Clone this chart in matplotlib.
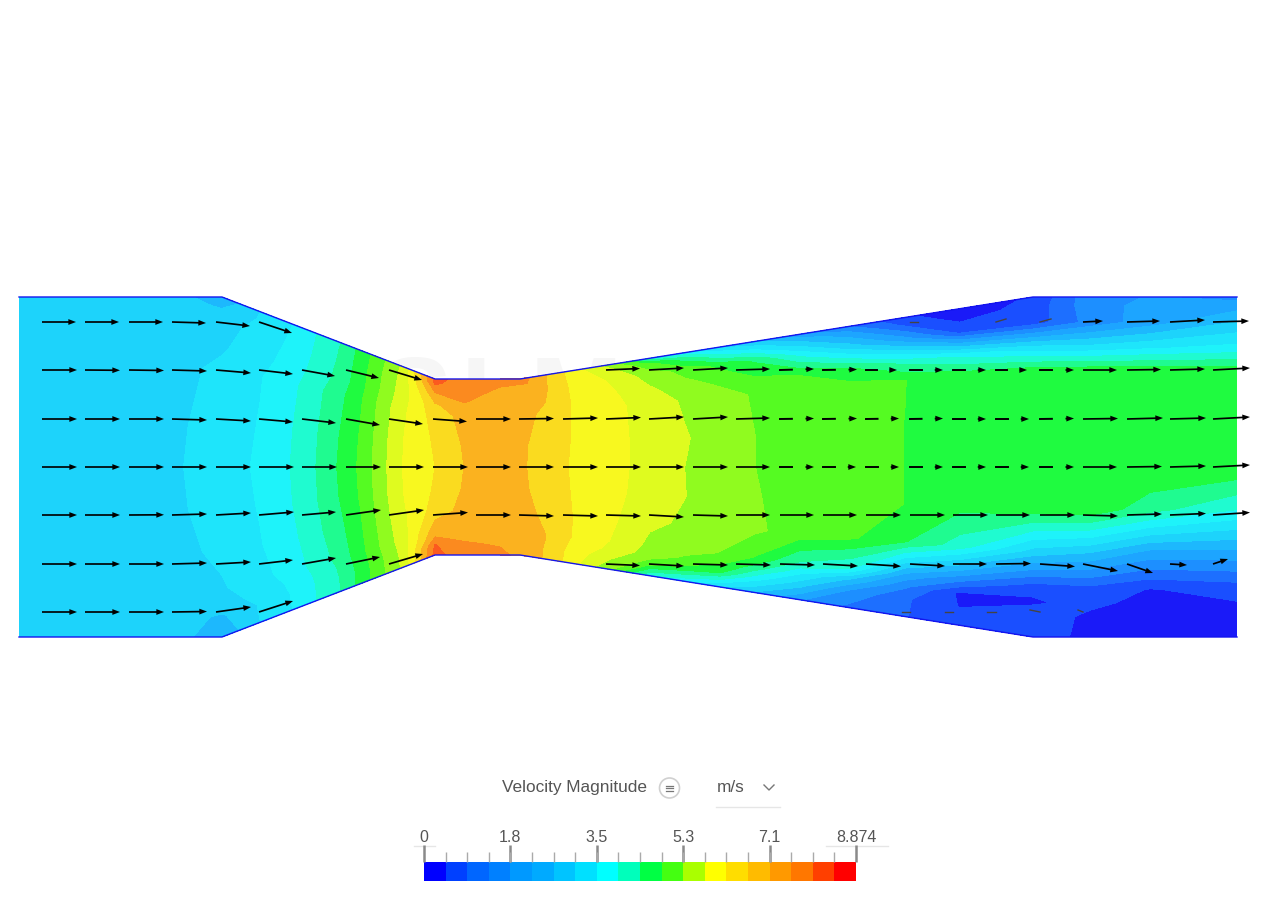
import numpy as np
import matplotlib
matplotlib.use('Agg')
import matplotlib.pyplot as plt
from matplotlib.patches import Circle

plt.rcParams['font.family'] = ['Liberation Sans', 'DejaVu Sans']

# nozzle walls (pixels)
wall_x = [19, 222, 435, 520, 1033, 1237]
wall_half = [170, 170, 88, 88, 170, 170]
center_y = 467

# stations along the nozzle and rows across it (-1 top wall, 1 bottom wall)
stations = [19, 100, 170, 222, 260, 290, 316, 340, 360, 375, 390, 405, 435, 465, 500, 527,
            550, 570, 610, 650, 685, 720, 755, 800, 850, 905, 960, 1033, 1090, 1150, 1237]
eta = [-1, -.95, -.85, -.7, -.58, -.25, 0, .25, .5, .72, .8, .88, 1]

# velocity magnitude, one list per station
speed = [
    [2.88, 2.88, 2.88, 2.88, 2.88, 2.88, 2.88, 2.88, 2.88, 2.88, 2.88, 2.88, 2.88],
    [2.85, 2.88, 2.88, 2.88, 2.88, 2.88, 2.88, 2.88, 2.88, 2.88, 2.88, 2.88, 2.85],
    [2.95, 2.9, 2.88, 2.9, 2.95, 3.0, 3.02, 3.0, 2.95, 2.9, 2.88, 2.88, 2.95],
    [2.3, 2.6, 2.95, 3.05, 3.2, 3.3, 3.35, 3.3, 3.2, 3.05, 2.95, 2.6, 2.3],
    [3.1, 3.15, 3.25, 3.4, 3.52, 3.58, 3.62, 3.58, 3.52, 3.4, 3.25, 3.15, 3.1],
    [3.5, 3.55, 3.62, 3.72, 3.84, 3.95, 3.99, 3.95, 3.84, 3.72, 3.62, 3.55, 3.5],
    [3.98, 4.0, 4.05, 4.15, 4.3, 4.4, 4.44, 4.4, 4.3, 4.15, 4.05, 4.0, 3.98],
    [4.42, 4.45, 4.5, 4.6, 4.75, 4.9, 4.95, 4.9, 4.75, 4.6, 4.5, 4.45, 4.42],
    [5.0, 5.02, 5.08, 5.15, 5.25, 5.36, 5.4, 5.36, 5.25, 5.15, 5.08, 5.02, 5.0],
    [5.45, 5.48, 5.55, 5.62, 5.72, 5.82, 5.86, 5.82, 5.72, 5.62, 5.55, 5.48, 5.45],
    [5.9, 5.93, 6.0, 6.08, 6.18, 6.28, 6.31, 6.28, 6.18, 6.08, 6.0, 5.93, 5.9],
    [6.35, 6.4, 6.45, 6.5, 6.6, 6.7, 6.72, 6.7, 6.6, 6.5, 6.45, 6.4, 6.35],
    [8.6, 8.5, 8.0, 7.45, 7.3, 7.15, 7.1, 7.15, 7.3, 7.8, 8.0, 8.45, 8.6],
    [8.2, 8.2, 8.15, 7.95, 7.7, 7.6, 7.56, 7.6, 7.7, 7.75, 7.9, 8.05, 8.1],
    [8.1, 8.05, 7.9, 7.75, 7.65, 7.62, 7.6, 7.62, 7.65, 7.72, 7.8, 7.95, 8.1],
    [8.05, 8.0, 7.9, 7.7, 7.6, 7.55, 7.54, 7.56, 7.6, 7.7, 7.7, 7.75, 7.8],
    [7.45, 7.45, 7.5, 7.5, 7.45, 7.35, 7.3, 7.35, 7.45, 7.5, 7.5, 7.45, 7.4],
    [6.95, 6.98, 7.05, 7.1, 7.1, 7.1, 7.08, 7.1, 7.12, 7.12, 7.05, 6.95, 6.9],
    [6.0, 6.3, 6.6, 6.75, 6.8, 6.8, 6.8, 6.8, 6.75, 6.65, 6.55, 6.3, 5.8],
    [4.0, 5.4, 6.0, 6.3, 6.45, 6.5, 6.5, 6.45, 6.3, 6.1, 6.0, 5.6, 4.0],
    [3.6, 4.6, 5.6, 5.95, 6.15, 6.25, 6.21, 6.22, 6.15, 5.9, 5.7, 5.2, 3.6],
    [3.0, 3.8, 5.2, 5.7, 5.95, 6.0, 6.0, 6.0, 6.0, 5.75, 5.4, 4.9, 3.0],
    [2.6, 3.3, 4.8, 5.4, 5.72, 5.77, 5.77, 5.8, 5.85, 5.3, 4.7, 3.8, 2.6],
    [1.9, 2.6, 3.8, 5.3, 5.55, 5.6, 5.6, 5.6, 5.55, 4.4, 3.6, 2.9, 1.8],
    [1.3, 1.9, 2.9, 4.9, 5.45, 5.45, 5.45, 5.45, 5.4, 4.0, 2.6, 1.7, 1.2],
    [0.5, 0.8, 2.0, 4.3, 5.33, 5.32, 5.32, 5.32, 4.9, 2.1, 1.4, 0.95, 0.9],
    [0.2, 0.25, 0.8, 3.9, 5.1, 5.1, 5.1, 5.0, 4.2, 1.35, 0.35, 0.42, 0.7],
    [0.5, 0.6, 0.65, 3.3, 4.95, 5.1, 5.1, 5.1, 2.9, 0.5, 0.4, 0.7, 0.7],
    [1.6, 1.6, 1.5, 3.3, 5.0, 5.1, 5.1, 5.2, 2.7, 0.7, 0.55, 0.35, 0.3],
    [1.8, 1.9, 2.0, 3.5, 5.0, 5.2, 5.3, 4.6, 2.1, 0.42, 0.3, 0.3, 0.3],
    [1.6, 2.0, 2.7, 3.7, 5.0, 5.2, 5.25, 4.0, 2.1, 0.6, 0.42, 0.3, 0.3],
]

# 20 bands, as they come out on the surface and on the scale bar
vmax = 8.874
field_colors = ['#1a1af8', '#1a4fff', '#1d6fff', '#1d8fff', '#1da5ff', '#1db8fd', '#1dd3fb',
                '#1ee5fb', '#1ef3fa', '#1ffbd0', '#1ffb90', '#1ffb40', '#55fb22', '#90fb1f',
                '#dffb1f', '#f8f81f', '#fadb1f', '#fbb21f', '#fb8a1f', '#fb5a1f']
bar_colors = ['#0000ff', '#0040ff', '#0066ff', '#0080ff', '#0099ff', '#00aaff', '#00c4ff',
              '#00e0ff', '#00ffff', '#00ffbb', '#00ff44', '#44ff11', '#aaff00', '#ffff00',
              '#ffdd00', '#ffbb00', '#ff9900', '#ff7700', '#ff3f00', '#ff0000']
bar_ticks = [0, 1.775, 3.55, 5.324, 7.099, 8.874]
bar_labels = ['0', '1.8', '3.5', '5.3', '7.1', '8.874']

# arrows: one column list, one row list, then tail-to-tip offsets per row
arrow_x = [42, 85, 129, 172, 216, 259, 302, 346, 389, 433, 476, 519, 563, 606, 649, 693, 736, 780,
           823, 866, 910, 953, 996, 1040, 1083, 1127, 1170, 1213]
arrow_y = [322, 370, 419, 467, 515, 564, 612]
n = np.nan
arrow_dx = [
    [34, 34, 34, 34, 34, 33, n, n, n, n, n, n, n, n, n, n, n, n, n, n, 8, n, 10, 11, 20, 33, 35, 36],
    [35, 35, 35, 35, 35, 34, 33, 33, 33, n, n, n, n, 34, 35, 35, 34, 34, 34, 31, 33, 33, 31, 34, 34, 34, 35, 37],
    [35, 35, 35, 35, 35, 34, 34, 34, 34, 34, 35, 35, 35, 35, 35, 35, 34, 34, 34, 33, 33, 33, 33, 34, 35, 36, 36, 37],
    [35, 35, 35, 35, 35, 35, 35, 35, 35, 35, 35, 35, 35, 35, 35, 35, 34, 34, 33, 33, 33, 33, 33, 34, 34, 35, 36, 37],
    [35, 35, 35, 35, 35, 35, 34, 35, 35, 35, 35, 35, 35, 35, 35, 35, 34, 34, 34, 35, 35, 35, 34, 35, 35, 35, 36, 37],
    [35, 35, 35, 35, 35, 34, 34, 34, 34, n, n, n, n, 34, 35, 35, 35, 35, 35, 35, 35, 34, 35, 35, 35, 26, 17, 15],
    [35, 35, 35, 35, 35, 34, n, n, n, n, n, n, n, n, n, n, n, n, n, n, -8, -8, -9, -10, -5, n, n, n],
]
arrow_dy = [
    [0, 0, 0, 1, 4, 11, n, n, n, n, n, n, n, n, n, n, n, n, n, n, 0, n, -3, -3, -1, -1, -2, -1],
    [0, .3, .5, 1, 3, 4, 6, 8, 10, n, n, n, n, -1.5, -2, -2, -1, -1, -.5, 0, 0, 0, 0, 0, 0, -.5, -1, -2],
    [0, 0, 0, 1, 2, 3, 4, 6, 5, 2.5, 0, -.5, -1, -1.5, -2, -2, -1, -.5, -.5, -.5, -.5, 0, 0, -.5, -.5, -1, -1, -2],
    [0, 0, 0, 0, 0, 0, 0, 0, 0, 0, 0, 0, 0, 0, 0, 0, 0, 0, 0, 0, 0, 0, 0, 0, 0, -.5, -1, -2],
    [0, 0, -.2, -1, -2, -3, -3, -5, -5, -2.5, 0, 1, 1, 1, 2, 1, 0, 0, 0, 0, 0, 0, 0, 0, 1, -1, -1.5, -2.5],
    [0, 0, 0, -1, -2, -4, -6, -7, -10, n, n, n, n, 1.5, 2, 1, 1, 1, 2, 2.3, 2, 0, -.5, 2.5, 7, 9, 1, -5],
    [0, 0, 0, -.5, -5, -11, n, n, n, n, n, n, n, n, n, n, n, n, n, n, 0, 0, 0, -2, -2, n, n, n],
]
# arrows that sink into the surface in the core of the diffuser (rows, first/last column)
sunk_rows = [1, 2, 3]
sunk_first = 17
sunk_last = 23

# faint watermark that shows above the throat
mark_letters = ['S', 'I', 'M']
mark_x = [378, 461, 530]

plt.figure(figsize=(12.8, 9), dpi=100)
ax = plt.axes([0, 0, 1, 1])
ax.set_xlim(0, 1280)
ax.set_ylim(900, 0)
ax.axis('off')

for letter, mx in zip(mark_letters, mark_x):
    ax.text(mx, 435, letter, fontsize=80, fontweight='bold', color='#f6f6f6', ha='left', va='baseline', zorder=0)

half = np.interp(stations, wall_x, wall_half)
X = np.array([[s] * len(eta) for s in stations], dtype=float)
Y = center_y + np.outer(half, eta)
levels = np.linspace(0, vmax, 21)
ax.contourf(X, Y, np.array(speed), levels=levels, colors=field_colors, zorder=1)

wx = np.array(wall_x)
wh = np.array(wall_half)
ax.plot(wx, center_y - wh, color='#1414ee', lw=1.0, zorder=2)
ax.plot(wx, center_y + wh, color='#1414ee', lw=1.0, zorder=2)

qx, qy, qu, qv = [], [], [], []
for i, y0 in enumerate(arrow_y):
    for j, x0 in enumerate(arrow_x):
        dx, dy = arrow_dx[i][j], arrow_dy[i][j]
        if np.isnan(dx):
            continue
        if abs(dx) < 12:
            # the near-stagnant ones are just thin dashes
            ax.plot([x0, x0 + dx], [y0, y0 + dy], color='#444444', lw=1, zorder=3)
        elif i in sunk_rows and sunk_first <= j <= sunk_last:
            # only the tail and the head show
            ax.plot([x0, x0 + 0.35 * dx], [y0, y0 + 0.35 * dy], color='black', lw=1.4, zorder=3)
            qx.append(x0 + 0.75 * dx)
            qy.append(y0 + 0.75 * dy)
            qu.append(0.25 * dx)
            qv.append(0.25 * dy)
        else:
            qx.append(x0)
            qy.append(y0)
            qu.append(dx)
            qv.append(dy)
ax.quiver(qx, qy, qu, qv, angles='xy', scale_units='xy', scale=1, units='xy', width=1.7,
          headwidth=3.4, headlength=4.5, headaxislength=4.5, minlength=0.2, color='black', zorder=3)

# legend header
ax.text(502, 787.5, 'Velocity Magnitude', fontsize=12.4, color='#555555', ha='left', va='center')
ax.add_patch(Circle((669.5, 788), 10, fc='white', ec='#d0d0d0', lw=1.2))
for yy in [785.5, 788, 790.5]:
    ax.plot([666, 673], [yy, yy], color='#777777', lw=0.9)
ax.text(731, 787.5, 'm/s', fontsize=12.4, color='#555555', ha='center', va='center')
ax.plot([764, 769, 774], [785, 790, 785], color='#777777', lw=1)
ax.plot([716, 780], [807, 807], color='#e6e6e6', lw=1)

# scale bar
cax = plt.axes([424 / 1280, 1 - 881 / 900, 432 / 1280, 19 / 900])
cax.pcolormesh(levels, [0, 1], np.arange(20).reshape(1, 20),
               cmap=matplotlib.colors.ListedColormap(bar_colors), vmin=-0.5, vmax=19.5)
cax.set_xlim(0, vmax)
cax.set_yticks([])
for side in cax.spines.values():
    side.set_visible(False)
cax.xaxis.tick_top()
cax.set_xticks(bar_ticks)
cax.set_xticklabels(bar_labels, fontsize=11.5, color='#555555')
cax.set_xticks(levels, minor=True)
cax.tick_params(axis='x', which='major', length=12, width=1.8, color='#8a8a8a', pad=0)
cax.tick_params(axis='x', which='minor', length=7, width=1, color='#aaaaaa')
ax.plot([414, 435], [846, 846], color='#e6e6e6', lw=1)
ax.plot([826, 888], [846, 846], color='#e6e6e6', lw=1)

plt.savefig('out.png', dpi=100)
plt.close()
